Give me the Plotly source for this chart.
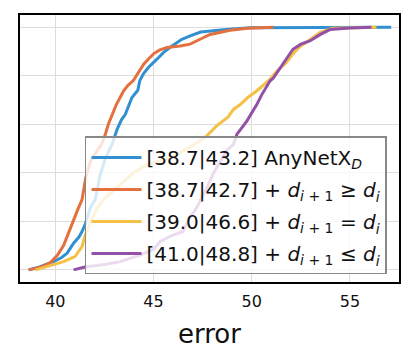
import plotly.graph_objects as go

# Empirical error distributions (error value, cumulative fraction) per design space
anynet_err = [38.63, 39.2, 39.9, 40.3, 40.6, 40.93, 41.2, 41.36, 41.53, 41.78, 42.03, 42.29,
              42.55, 42.8, 42.9, 43.15, 43.38, 43.56, 43.75, 43.9, 44.2, 44.3, 44.5, 44.75,
              45.2, 45.5, 45.85, 46.44, 46.9, 47.4, 48.7, 49.9, 57.1]
anynet_cdf = [0.0, 0.012, 0.034, 0.05, 0.069, 0.11, 0.135, 0.158, 0.19, 0.256, 0.29, 0.393,
              0.46, 0.50, 0.52, 0.58, 0.62, 0.64, 0.68, 0.71, 0.74, 0.78, 0.81, 0.835,
              0.87, 0.895, 0.917, 0.95, 0.965, 0.98, 0.99, 0.997, 1.0]

incr_err = [38.65, 39.3, 39.75, 40.1, 40.42, 40.7, 40.93, 41.15, 41.36, 41.44, 41.55, 41.8,
            42.05, 42.37, 42.55, 42.7, 42.9, 43.1, 43.47, 43.7, 43.97, 44.2, 44.5, 44.75,
            45.0, 45.3, 45.68, 46.36, 46.86, 47.37, 47.88, 48.9, 49.8, 51.1]
incr_cdf = [0.0, 0.012, 0.03, 0.06, 0.10, 0.16, 0.207, 0.25, 0.29, 0.337, 0.38, 0.45,
            0.48, 0.52, 0.56, 0.60, 0.64, 0.68, 0.737, 0.76, 0.78, 0.81, 0.847, 0.87,
            0.89, 0.905, 0.916, 0.922, 0.93, 0.95, 0.97, 0.987, 0.995, 1.0]

same_err = [39.0, 39.5, 40.42, 41.0, 41.36, 41.5, 41.8, 42.1, 42.46, 43.3, 43.98, 44.6,
            45.3, 46.0, 46.5, 47.1, 47.7, 48.2, 48.8, 49.07, 49.4, 49.8, 50.25, 50.6,
            50.93, 51.3, 51.78, 52.1, 52.46, 53.0, 53.47, 54.1, 55.5, 56.35]
same_cdf = [0.0, 0.012, 0.034, 0.055, 0.096, 0.138, 0.2, 0.25, 0.29, 0.351, 0.40, 0.43,
            0.45, 0.467, 0.49, 0.517, 0.551, 0.592, 0.63, 0.661, 0.68, 0.71, 0.737, 0.76,
            0.785, 0.82, 0.855, 0.89, 0.92, 0.95, 0.978, 0.995, 0.998, 1.0]

decr_err = [40.93, 41.5, 42.5, 43.3, 44.3, 45.0, 45.34, 45.9, 46.5, 46.8, 47.2, 47.71,
            48.0, 48.39, 48.7, 49.07, 49.24, 49.75, 50.25, 50.5, 50.93, 51.1, 51.6, 52.1,
            52.5, 52.96, 53.5, 53.98, 55.0, 56.1]
decr_cdf = [0.0, 0.012, 0.022, 0.034, 0.06, 0.085, 0.117, 0.14, 0.158, 0.21, 0.256, 0.337,
            0.39, 0.448, 0.49, 0.517, 0.558, 0.613, 0.68, 0.72, 0.778, 0.79, 0.847, 0.909,
            0.93, 0.943, 0.97, 0.99, 0.996, 1.0]

labels = [
    "[38.7|43.2] AnyNetX<sub><i>D</i></sub>",
    "[38.7|42.7] + <i>d</i><sub><i>i</i> + 1</sub> ≥ <i>d<sub>i</sub></i>",
    "[39.0|46.6] + <i>d</i><sub><i>i</i> + 1</sub> = <i>d<sub>i</sub></i>",
    "[41.0|48.8] + <i>d</i><sub><i>i</i> + 1</sub> ≤ <i>d<sub>i</sub></i>",
]
colors = ["#3390D0", "#E5703F", "#F4C145", "#9450A8"]
series = [(anynet_err, anynet_cdf), (incr_err, incr_cdf),
          (same_err, same_cdf), (decr_err, decr_cdf)]

fig = go.Figure()
for i, ((xs, ys), name, c) in enumerate(zip(series, labels, colors)):
    fig.add_trace(go.Scatter(
        x=xs, y=ys, mode="lines", name=name, legendgroup=f"g{i}",
        line=dict(color=c, width=3),
    ))

font_family = "DejaVu Sans"
fig.update_layout(
    width=419, height=349,
    margin=dict(l=20, r=20, t=15, b=67),
    paper_bgcolor="white", plot_bgcolor="white",
    font=dict(family=font_family, color="#111111"),
    showlegend=True,
    legend=dict(
        x=0.1715, y=0.545, xanchor="left", yanchor="top",
        bgcolor="rgba(255,255,255,0.8)", bordercolor="#888888", borderwidth=1.5,
        font=dict(size=20, family=font_family, color="#111111"),
        tracegroupgap=3, itemwidth=50,
    ),
    xaxis=dict(
        range=[38.2, 57.5], tickvals=[40, 45, 50, 55], ticks="",
        showgrid=True, gridcolor="#dddddd", gridwidth=1,
        showline=True, linecolor="black", linewidth=1.8, mirror=True,
        tickfont=dict(size=16, family=font_family, color="#111111"),
        ticklabelstandoff=4, automargin=False,
        title=dict(text="error", font=dict(size=26, family=font_family, color="#111111"),
                   standoff=15),
        zeroline=False,
    ),
    yaxis=dict(
        range=[-0.05, 1.05], tickvals=[0, 0.2, 0.4, 0.6, 0.8, 1.0], showticklabels=False,
        ticks="", showgrid=True, gridcolor="#dddddd", gridwidth=1,
        showline=True, linecolor="black", linewidth=1.8, mirror=True, zeroline=False,
        automargin=False,
    ),
)

fig.write_html("out.html")
